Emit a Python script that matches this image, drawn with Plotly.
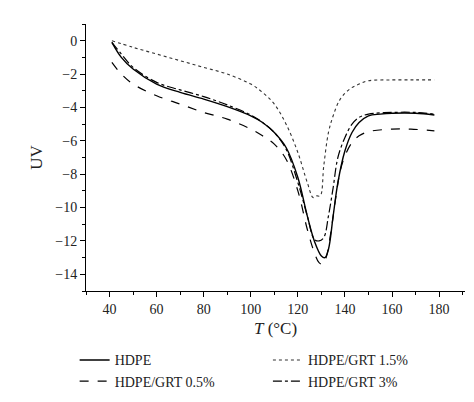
import plotly.graph_objects as go

# temperature / UV readings per sample
t_hdpe = [41, 45, 50, 60, 70, 80, 90, 100, 105, 110, 115, 120, 124, 127, 130, 131.5, 133, 135, 137, 140, 143, 146, 150, 155, 160, 170, 178]
uv_hdpe = [-0.1, -1.0, -1.7, -2.6, -3.1, -3.5, -3.95, -4.5, -4.9, -5.5, -6.4, -8.2, -10.5, -12.0, -12.9, -13.0, -12.5, -10.5, -8.5, -6.6, -5.5, -4.9, -4.5, -4.4, -4.35, -4.35, -4.45]

t_05 = [41, 45, 50, 60, 70, 80, 90, 100, 105, 110, 115, 120, 124, 127, 129, 130.5, 132, 134, 136, 138, 140, 143, 146, 150, 160, 168, 178]
uv_05 = [-1.3, -2.0, -2.6, -3.3, -3.8, -4.3, -4.7, -5.3, -5.7, -6.2, -7.1, -9.0, -11.3, -12.7, -13.3, -13.4, -13.0, -11.5, -9.5, -7.8, -6.9, -6.1, -5.7, -5.45, -5.3, -5.3, -5.4]

t_15 = [41, 50, 60, 70, 80, 90, 100, 105, 110, 115, 120, 124, 126.5, 128, 129.5, 131, 133, 135, 138, 142, 146, 150, 160, 170, 178]
uv_15 = [0.0, -0.4, -0.8, -1.2, -1.6, -2.0, -2.6, -3.1, -3.8, -5.0, -6.7, -8.5, -9.4, -9.3, -9.3, -7.5, -5.5, -4.5, -3.5, -2.9, -2.6, -2.4, -2.35, -2.35, -2.35]

t_3 = [41, 45, 50, 60, 70, 80, 90, 100, 105, 110, 115, 120, 124, 127, 129, 131, 133, 135, 137, 140, 143, 146, 150, 160, 170, 178]
uv_3 = [-0.1, -0.8, -1.6, -2.5, -2.95, -3.35, -3.85, -4.45, -4.9, -5.5, -6.5, -8.5, -10.5, -11.9, -12.0, -11.8, -10.5, -8.8, -7.0, -5.8, -5.0, -4.6, -4.4, -4.3, -4.3, -4.4]

fig = go.Figure()
fig.add_trace(go.Scatter(x=t_hdpe, y=uv_hdpe, name="HDPE", mode="lines", legend="legend",
                         line=dict(color="black", width=1.4, dash="solid", shape="spline")))
fig.add_trace(go.Scatter(x=t_05, y=uv_05, name="HDPE/GRT 0.5%", mode="lines", legend="legend",
                         line=dict(color="black", width=1.2, dash="dash", shape="spline")))
fig.add_trace(go.Scatter(x=t_15, y=uv_15, name="HDPE/GRT 1.5%", mode="lines", legend="legend2",
                         line=dict(color="#333", width=1.1, dash="dot", shape="spline")))
fig.add_trace(go.Scatter(x=t_3, y=uv_3, name="HDPE/GRT 3%", mode="lines", legend="legend2",
                         line=dict(color="black", width=1.2, dash="dashdot", shape="spline")))

axis_style = dict(showline=True, linecolor="black", linewidth=1, showgrid=False, zeroline=False,
                  ticks="outside", ticklen=5, tickcolor="black", mirror=False)

fig.update_xaxes(range=[30, 191], dtick=20, tick0=0,
                 minor=dict(dtick=10, ticks="outside", ticklen=3, tickcolor="black"),
                 title=dict(text="<i>T</i> (°C)", standoff=6), **axis_style)
fig.update_yaxes(range=[-15, 1], dtick=2, tick0=0,
                 minor=dict(dtick=1, ticks="outside", ticklen=3, tickcolor="black"),
                 title=dict(text="UV", standoff=8), **axis_style)

leg = dict(orientation="v", yanchor="top", y=-0.2, xanchor="left",
           font=dict(size=14), tracegroupgap=0, bgcolor="rgba(0,0,0,0)", itemwidth=30)

fig.update_layout(
    width=474, height=402,
    margin=dict(l=78, r=17, t=16, b=115),
    plot_bgcolor="white", paper_bgcolor="white",
    font=dict(family="Liberation Serif", size=14, color="#222"),
    legend=dict(x=-0.03, **leg),
    legend2=dict(x=0.48, **leg),
)

fig.write_html("out.html")
